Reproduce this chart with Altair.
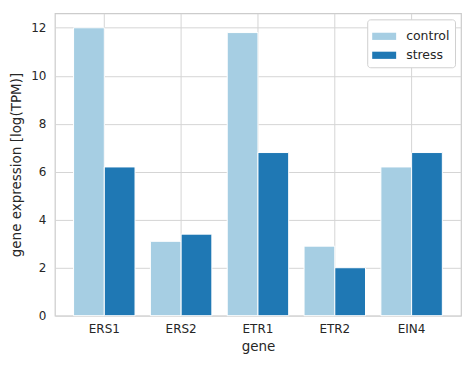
import altair as alt
import pandas as pd

genes = ["ERS1", "ERS2", "ETR1", "ETR2", "EIN4"]
control = [12.0, 3.1, 11.8, 2.9, 6.2]
stress = [6.2, 3.4, 6.8, 2.0, 6.8]
conditions = ["control", "stress"]
colors = ["#a6cee3", "#1f78b4"]

rows = []
for g, c, s in zip(genes, control, stress):
    rows.append({"gene": g, "condition": "control", "value": c})
    rows.append({"gene": g, "condition": "stress", "value": s})
df = pd.DataFrame(rows)

font = "DejaVu Sans"

chart = alt.Chart(df).mark_bar(stroke="white", strokeWidth=1).encode(
    x=alt.X("gene:N", sort=genes, title="gene",
            scale=alt.Scale(paddingInner=0.2, paddingOuter=0.243),
            axis=alt.Axis(labelAngle=0, bandPosition=0.5, grid=True, ticks=False,
                          domain=False, labelPadding=8, titlePadding=5)),
    xOffset=alt.XOffset("condition:N", sort=conditions),
    y=alt.Y("value:Q", title="gene expression [log(TPM)]",
            scale=alt.Scale(domain=[0, 12.6], nice=False),
            axis=alt.Axis(values=[0, 2, 4, 6, 8, 10, 12], ticks=False, domain=False,
                          labelPadding=9, titlePadding=7)),
    color=alt.Color("condition:N", sort=conditions,
                    scale=alt.Scale(domain=conditions, range=colors),
                    legend=alt.Legend(title=None, orient="top-right",
                                      fillColor="white", strokeColor="#d0d0d0",
                                      cornerRadius=3, padding=5, offset=6,
                                      symbolType="M-1,-0.3H1V0.3H-1Z",
                                      symbolSize=576, symbolStrokeWidth=0,
                                      labelFontSize=12.5, labelColor="#262626",
                                      labelOffset=10, labelFont=font, rowPadding=-6)),
).properties(
    width=407, height=303,
    padding={"left": 1, "top": 5, "right": 5, "bottom": 5}
).configure_view(
    stroke="#cccccc", strokeWidth=1.2
).configure_axis(
    gridColor="#d5d5d5", gridWidth=1, labelFont=font, titleFont=font,
    labelFontSize=12, titleFontSize=13.5, labelColor="#262626", titleColor="#262626",
    titleFontWeight="normal"
)

chart.save("out.html", embed_options={"renderer": "svg", "actions": False})
